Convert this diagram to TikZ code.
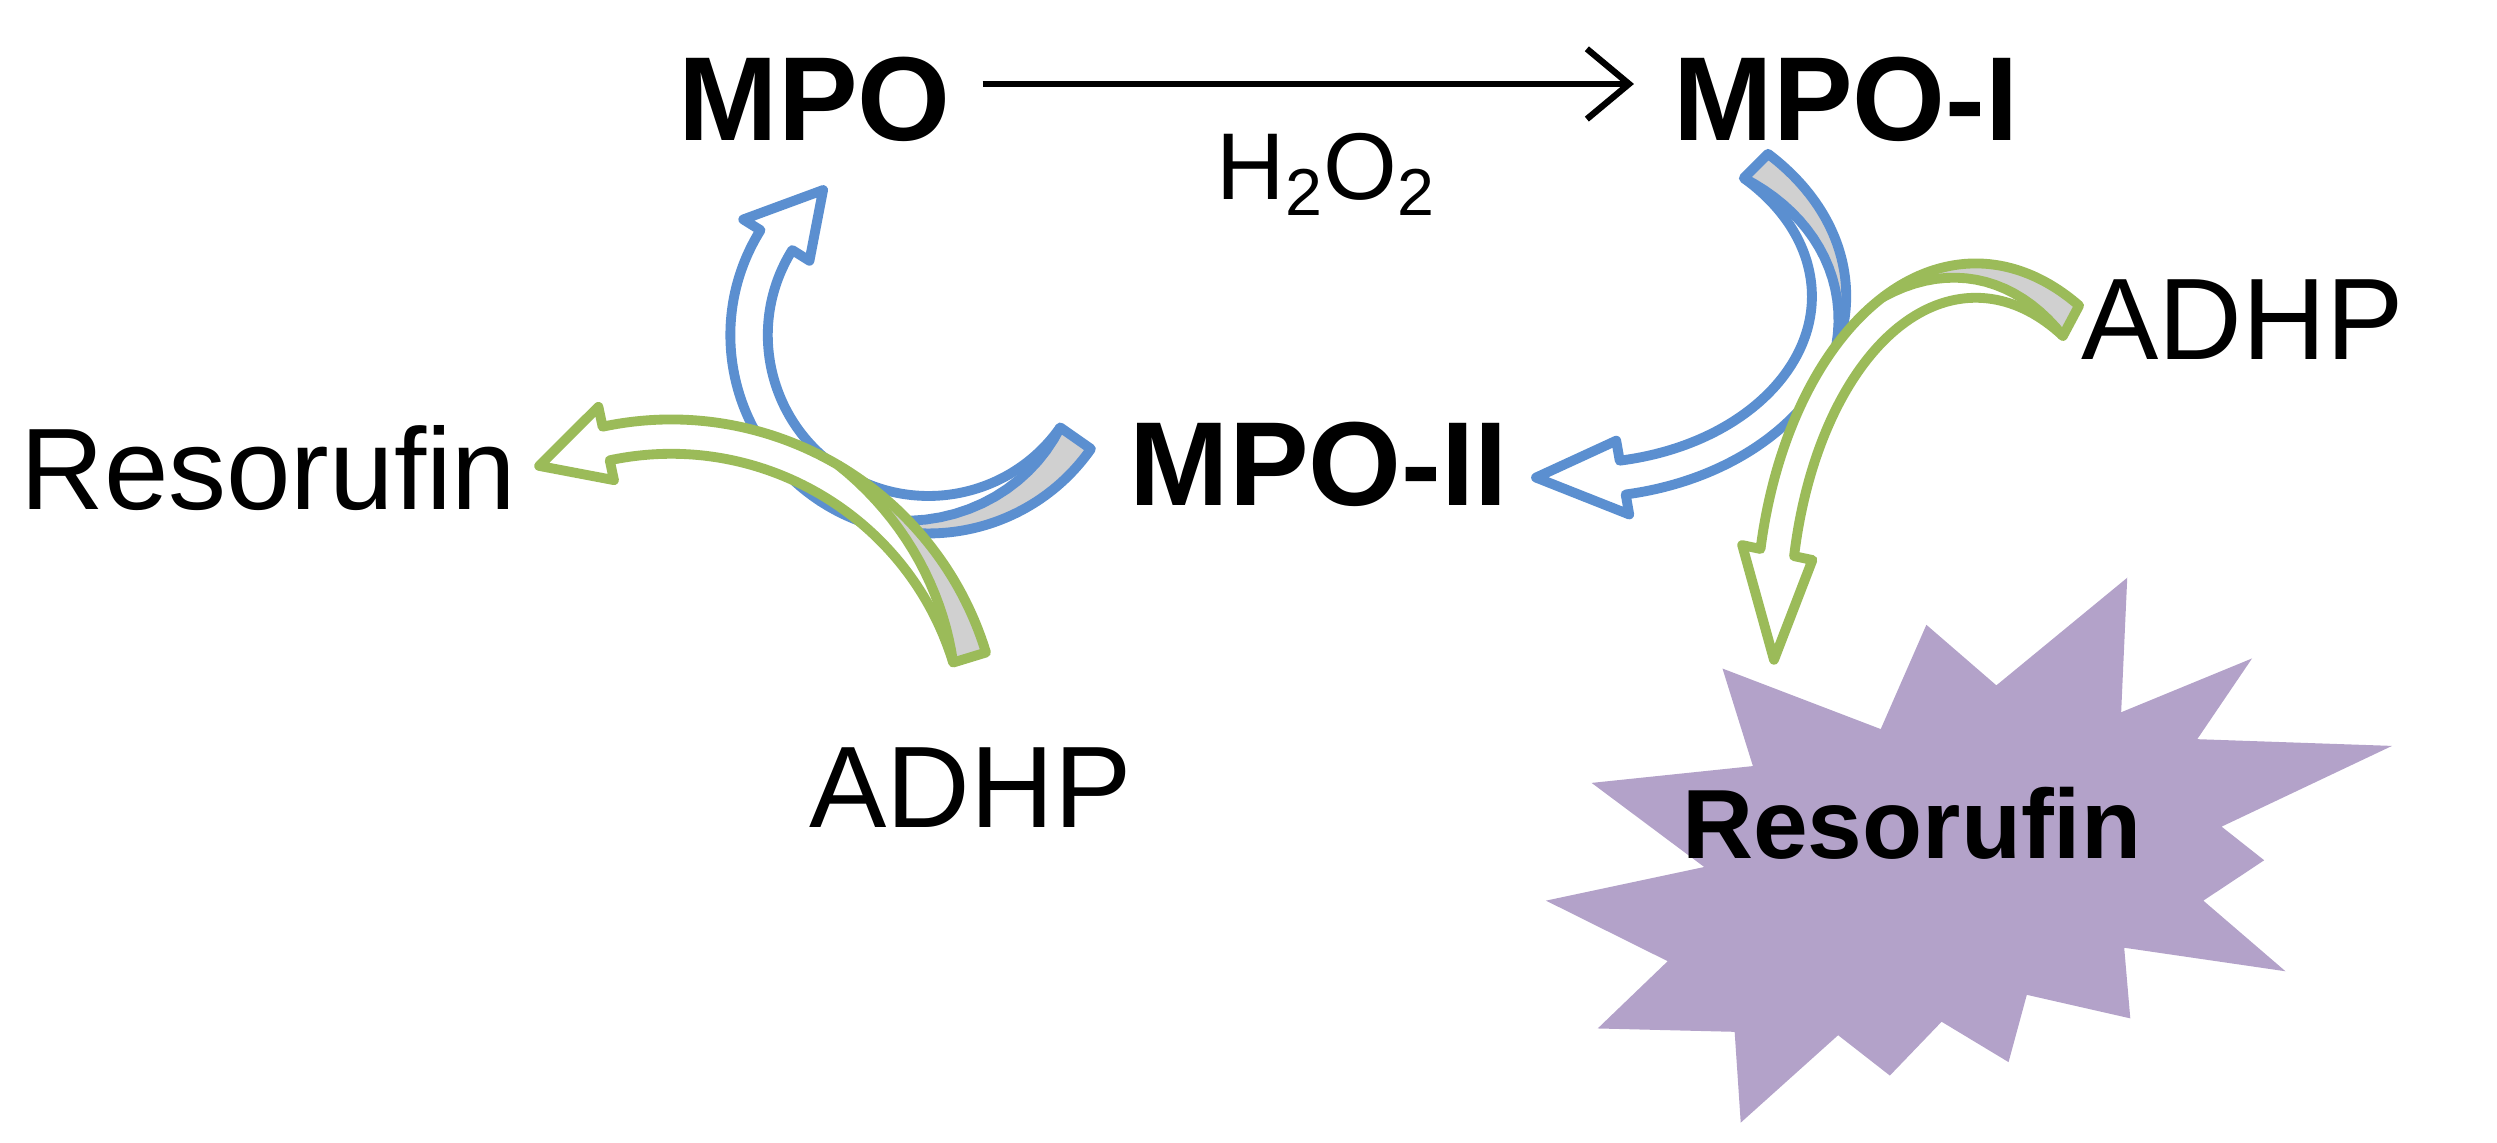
\documentclass[tikz,border=0pt]{standalone}
\usepackage{fontspec}
\setmainfont{Liberation Sans}
\usetikzlibrary{arrows.meta}
\definecolor{bl}{HTML}{5B8FD0}
\definecolor{gr}{HTML}{9BBB59}
\definecolor{gy}{HTML}{D0D0D0}
\definecolor{st}{HTML}{B3A2C9}
% #1 centre, #2 rx, #3 ry, #4 tail angle, #5 head-base angle, #6 tip angle, #7 band width, #8 head width, #9 colour
\newcommand\carrow[9]{%
 \pgfmathsetmacro\Ro{#2+#7/2}\pgfmathsetmacro\Ri{#2-#7/2}%
 \pgfmathsetmacro\So{#3+#7/2}\pgfmathsetmacro\Si{#3-#7/2}%
 \pgfmathsetmacro\Ho{#2+#8/2}\pgfmathsetmacro\Hi{#2-#8/2}%
 \pgfmathsetmacro\Go{#3+#8/2}\pgfmathsetmacro\Gi{#3-#8/2}%
 \pgfmathsetmacro\am{#4+0.5*(#5-#4)}%
 \begin{scope}[shift={(#1)}]
 \fill[white] (#4:\Ro\space and \So) arc[start angle=#4,end angle=#5,x radius=\Ro,y radius=\So] -- (#5:\Ho\space and \Go) -- (#6:#2 and #3) -- (#5:\Hi\space and \Gi) -- (#5:\Ri\space and \Si) arc[start angle=#5,end angle=#4,x radius=\Ri,y radius=\Si] -- cycle;
 \fill[gy] (#4:\Ro\space and \So) arc[start angle=#4,end angle=\am,x radius=\Ro,y radius=\So] -- plot[domain=\am:#4,samples=20] (\x:{\Ro-(#7)*(\x-\am)/(#4-\am)} and {\So-(#7)*(\x-\am)/(#4-\am)}) -- cycle;
 \draw[#9,line width=2.8pt] plot[domain=\am:#4,samples=20] (\x:{\Ro-(#7)*(\x-\am)/(#4-\am)} and {\So-(#7)*(\x-\am)/(#4-\am)});
 \draw[#9,line width=2.8pt,line join=round] (#4:\Ro\space and \So) arc[start angle=#4,end angle=#5,x radius=\Ro,y radius=\So] -- (#5:\Ho\space and \Go) -- (#6:#2 and #3) -- (#5:\Hi\space and \Gi) -- (#5:\Ri\space and \Si) arc[start angle=#5,end angle=#4,x radius=\Ri,y radius=\Si] -- cycle;
 \end{scope}}
\begin{document}
\begin{tikzpicture}[x=0.015606cm,y=0.015606cm,
  bold/.style={font=\fontsize{34}{40}\selectfont\bfseries,inner sep=0pt},
  reg/.style={font=\fontsize{33}{40}\selectfont,inner sep=0pt}]
\useasboundingbox (0,0) rectangle (1600,731.8);
% star
\begin{scope}[shift={(975,672)},x=0.00641cm,y=-0.00641cm,xscale=0.95,yscale=1.05]
\fill[st] (330,855)--(380,1000)--(115,1025)--(300,1150)--(40,1200)--(240,1290)--(125,1390)--(350,1395)--(360,1530)--(520,1400)--(605,1460)--(690,1380)--(800,1440)--(830,1340)--(1000,1375)--(990,1270)--(1255,1305)--(1120,1200)--(1220,1140)--(1150,1090)--(1430,970)--(1110,960)--(1200,840)--(985,920)--(995,720)--(780,880)--(665,790)--(590,945)--cycle;
\end{scope}
% blue arrows
\carrow{595,517}{115}{115}{-35}{-212}{-234}{24}{50}{bl}
\carrow{1012,542}{160}{118}{45}{-80}{-100}{22}{48}{bl}
% green arrows
\carrow{430,252}{200}{200}{17}{102}{115}{22}{48}{gr}
\carrow{1266,332}{130}{220}{62}{168}{186}{22}{46}{gr}
% texts
\node[bold] (mpo) at (522,668) {MPO};
\node[bold] (mpoi) at (1183,668) {MPO-I};
\node[bold] (mpoii) at (845,434) {MPO-II};
\node[reg] (res1) at (172,432) {Resorufin};
\node[reg] (adhp1) at (622,227) {ADHP};
\node[reg] (adhp2) at (1437,527) {ADHP};
\node[font=\fontsize{28}{34}\selectfont\bfseries,inner sep=0pt] (res2) at (1225,204) {Resorufin};
\node[font=\fontsize{27}{32}\selectfont,inner sep=0pt] (h2o2) at (850,620) {H\textsubscript{2}O\textsubscript{2}};
\coordinate (s) at ([shift={(20,10)}]mpo.east);
\coordinate (e) at ([shift={(-25,10)}]mpoi.west);
\draw[-{Straight Barb[length=12pt,width=20pt]},line width=1.8pt] (s) -- (e);
\end{tikzpicture}
\end{document}
